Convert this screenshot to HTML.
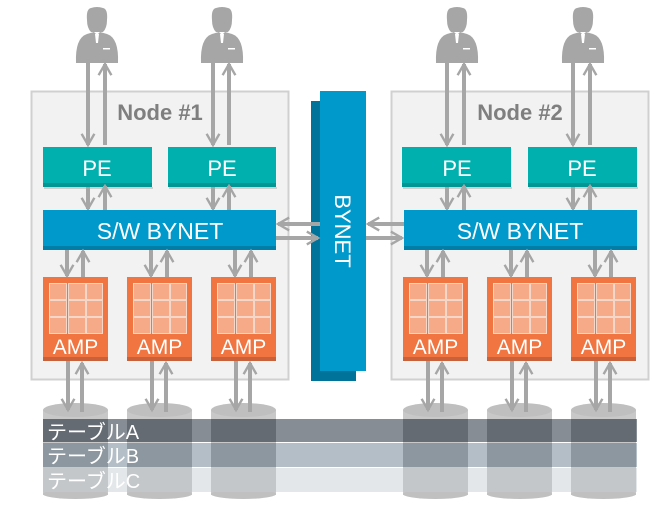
<!DOCTYPE html>
<html><head><meta charset="utf-8"><style>
html,body{margin:0;padding:0;background:#fff;}
svg{display:block;}
text{font-family:"Liberation Sans","Noto Sans CJK JP",sans-serif;}
</style></head><body>
<svg width="672" height="518" viewBox="0 0 672 518" xmlns="http://www.w3.org/2000/svg">
<defs>
<marker id="ah" viewBox="0 0 10 10" refX="8.5" refY="5" markerWidth="4" markerHeight="4" orient="auto-start-reverse" markerUnits="strokeWidth">
<path d="M1.5,1 L8.5,5 L1.5,9" fill="none" stroke="#a6a6a6" stroke-width="1.5"/>
</marker>
<g id="person">
<path d="M-10,20 Q-11,9 -6,8 Q0,6 6,8 Q11,9 10,20 Q10,28 6,32 L-6,32 Q-10,28 -10,20Z" fill="#a6a6a6"/>
<path d="M-21,63 Q-22,38 -10,34 L-3,32 L0,35 L3,32 L10,34 Q22,38 21,63 Z" fill="#a6a6a6"/>
<path d="M-2,34 L2,34 L1,43 L-1,43Z" fill="#fff"/>
<rect x="6" y="48" width="7" height="1.5" fill="#fff"/>
</g>
<g id="amp">
<rect x="0" y="0" width="65" height="84" fill="#f07540"/>
<rect x="0" y="80" width="65" height="4" fill="#c9613a"/>
<g fill="#f6aa88" stroke="#f3d7c8" stroke-width="1">
<rect x="6.5" y="6.5" width="17" height="16"/><rect x="25.5" y="6.5" width="17" height="16"/><rect x="43.5" y="6.5" width="16" height="16"/>
<rect x="6.5" y="23.5" width="17" height="16"/><rect x="25.5" y="23.5" width="17" height="16"/><rect x="43.5" y="23.5" width="16" height="16"/>
<rect x="6.5" y="40.5" width="17" height="16"/><rect x="25.5" y="40.5" width="17" height="16"/><rect x="43.5" y="40.5" width="16" height="16"/>
</g>
<text x="32.5" y="77" font-size="21" fill="#fff" text-anchor="middle">AMP</text>
</g>
<g id="cyl">
<rect x="0" y="410" width="65" height="85" fill="#c8c8c8"/>
<ellipse cx="32.5" cy="410" rx="32.5" ry="7" fill="#bfbfbf"/>
<ellipse cx="32.5" cy="494" rx="32.5" ry="5" fill="#c0c0c0"/>
</g>
</defs>

<use href="#person" x="97" y="0"/>
<use href="#person" x="222" y="0"/>
<use href="#person" x="457" y="0"/>
<use href="#person" x="583" y="0"/>

<rect x="31.5" y="91.5" width="257" height="288" fill="#f2f2f2" stroke="#d0d0d0" stroke-width="2"/>
<rect x="391.5" y="91.5" width="257" height="288" fill="#f2f2f2" stroke="#d0d0d0" stroke-width="2"/>
<text x="160" y="120" font-size="22" font-weight="bold" fill="#7f7f7f" text-anchor="middle">Node #1</text>
<text x="520" y="120" font-size="22" font-weight="bold" fill="#7f7f7f" text-anchor="middle">Node #2</text>

<g stroke="#a6a6a6" stroke-width="4" fill="none" marker-end="url(#ah)">
<line x1="88" y1="62" x2="88" y2="145"/><line x1="105" y1="145" x2="105" y2="64"/>
<line x1="213" y1="62" x2="213" y2="145"/><line x1="229" y1="145" x2="229" y2="64"/>
<line x1="447" y1="62" x2="447" y2="145"/><line x1="464" y1="145" x2="464" y2="64"/>
<line x1="573" y1="62" x2="573" y2="145"/><line x1="590" y1="145" x2="590" y2="64"/>
</g>

<g>
<rect x="43" y="147" width="109" height="40" fill="#00b0ae"/><rect x="43" y="183" width="109" height="4" fill="#009694"/><rect x="44" y="187" width="109" height="2" fill="#cfcfcf"/>
<rect x="168" y="147" width="108" height="40" fill="#00b0ae"/><rect x="168" y="183" width="108" height="4" fill="#009694"/><rect x="169" y="187" width="108" height="2" fill="#cfcfcf"/>
<rect x="402" y="147" width="109" height="40" fill="#00b0ae"/><rect x="402" y="183" width="109" height="4" fill="#009694"/><rect x="403" y="187" width="109" height="2" fill="#cfcfcf"/>
<rect x="528" y="147" width="109" height="40" fill="#00b0ae"/><rect x="528" y="183" width="109" height="4" fill="#009694"/><rect x="529" y="187" width="109" height="2" fill="#cfcfcf"/>
<g font-size="22" fill="#fff" text-anchor="middle">
<text x="97" y="176">PE</text><text x="222" y="176">PE</text><text x="457" y="176">PE</text><text x="582" y="176">PE</text>
</g>
</g>

<g stroke="#a6a6a6" stroke-width="4" fill="none" marker-end="url(#ah)">
<line x1="88" y1="187" x2="88" y2="209"/><line x1="105" y1="210" x2="105" y2="186"/>
<line x1="213" y1="187" x2="213" y2="209"/><line x1="229" y1="210" x2="229" y2="186"/>
<line x1="447" y1="187" x2="447" y2="209"/><line x1="464" y1="210" x2="464" y2="186"/>
<line x1="573" y1="187" x2="573" y2="209"/><line x1="590" y1="210" x2="590" y2="186"/>
</g>

<rect x="43" y="210" width="233" height="40" fill="#0099cc"/><rect x="43" y="246" width="233" height="4" fill="#007ea8"/>
<rect x="404" y="210" width="233" height="40" fill="#0099cc"/><rect x="404" y="246" width="233" height="4" fill="#007ea8"/>
<text x="160" y="239" font-size="23" fill="#fff" text-anchor="middle">S/W BYNET</text>
<text x="520" y="239" font-size="23" fill="#fff" text-anchor="middle">S/W BYNET</text>

<rect x="311" y="101" width="45" height="280" fill="#00739a"/>
<rect x="320" y="91" width="46" height="280" fill="#0099cc"/>
<text x="343" y="231" font-size="22" fill="#fff" text-anchor="middle" transform="rotate(90 343 231)" dy="8">BYNET</text>

<g stroke="#a6a6a6" stroke-width="4" fill="none" marker-end="url(#ah)">
<line x1="320" y1="224" x2="278" y2="224"/><line x1="276" y1="238" x2="318" y2="238"/>
<line x1="404" y1="224" x2="368" y2="224"/><line x1="366" y1="238" x2="402" y2="238"/>
</g>

<g stroke="#a6a6a6" stroke-width="4" fill="none" marker-end="url(#ah)">
<line x1="67" y1="250" x2="67" y2="276"/><line x1="83" y1="277" x2="83" y2="251"/>
<line x1="151" y1="250" x2="151" y2="276"/><line x1="167" y1="277" x2="167" y2="251"/>
<line x1="235" y1="250" x2="235" y2="276"/><line x1="251" y1="277" x2="251" y2="251"/>
<line x1="427" y1="250" x2="427" y2="276"/><line x1="443" y1="277" x2="443" y2="251"/>
<line x1="511" y1="250" x2="511" y2="276"/><line x1="527" y1="277" x2="527" y2="251"/>
<line x1="595" y1="250" x2="595" y2="276"/><line x1="611" y1="277" x2="611" y2="251"/>
</g>

<use href="#amp" x="43" y="277"/><use href="#amp" x="127" y="277"/><use href="#amp" x="211" y="277"/>
<use href="#amp" x="403" y="277"/><use href="#amp" x="487" y="277"/><use href="#amp" x="571" y="277"/>

<use href="#cyl" x="43"/><use href="#cyl" x="127"/><use href="#cyl" x="211"/>
<use href="#cyl" x="403"/><use href="#cyl" x="487"/><use href="#cyl" x="571"/>

<g stroke="#a6a6a6" stroke-width="4" fill="none" marker-end="url(#ah)">
<line x1="68" y1="361" x2="68" y2="410"/><line x1="82" y1="412" x2="82" y2="363"/>
<line x1="152" y1="361" x2="152" y2="410"/><line x1="166" y1="412" x2="166" y2="363"/>
<line x1="236" y1="361" x2="236" y2="410"/><line x1="250" y1="412" x2="250" y2="363"/>
<line x1="428" y1="361" x2="428" y2="410"/><line x1="442" y1="412" x2="442" y2="363"/>
<line x1="512" y1="361" x2="512" y2="410"/><line x1="526" y1="412" x2="526" y2="363"/>
<line x1="596" y1="361" x2="596" y2="410"/><line x1="610" y1="412" x2="610" y2="363"/>
</g>

<rect x="43" y="419" width="594" height="23" fill="#878d94"/>
<rect x="43" y="443" width="594" height="24" fill="#b3bec6"/>
<rect x="43" y="468" width="594" height="24" fill="#e3e7ea"/>
<g>
<rect x="43" y="419" width="65" height="23" fill="#646b73"/><rect x="127" y="419" width="65" height="23" fill="#646b73"/><rect x="211" y="419" width="65" height="23" fill="#646b73"/>
<rect x="403" y="419" width="65" height="23" fill="#646b73"/><rect x="487" y="419" width="65" height="23" fill="#646b73"/><rect x="571" y="419" width="65" height="23" fill="#646b73"/>
<rect x="43" y="443" width="65" height="24" fill="#8c979f"/><rect x="127" y="443" width="65" height="24" fill="#8c979f"/><rect x="211" y="443" width="65" height="24" fill="#8c979f"/>
<rect x="403" y="443" width="65" height="24" fill="#8c979f"/><rect x="487" y="443" width="65" height="24" fill="#8c979f"/><rect x="571" y="443" width="65" height="24" fill="#8c979f"/>
<rect x="43" y="468" width="65" height="24" fill="#c3c7ca"/><rect x="127" y="468" width="65" height="24" fill="#c3c7ca"/><rect x="211" y="468" width="65" height="24" fill="#c3c7ca"/>
<rect x="403" y="468" width="65" height="24" fill="#c3c7ca"/><rect x="487" y="468" width="65" height="24" fill="#c3c7ca"/><rect x="571" y="468" width="65" height="24" fill="#c3c7ca"/>
</g>
<g font-size="20" fill="#fff">
<text x="47" y="439">テーブルA</text>
<text x="47" y="463">テーブルB</text>
<text x="47" y="488">テーブルC</text>
</g>
</svg>
</body></html>
